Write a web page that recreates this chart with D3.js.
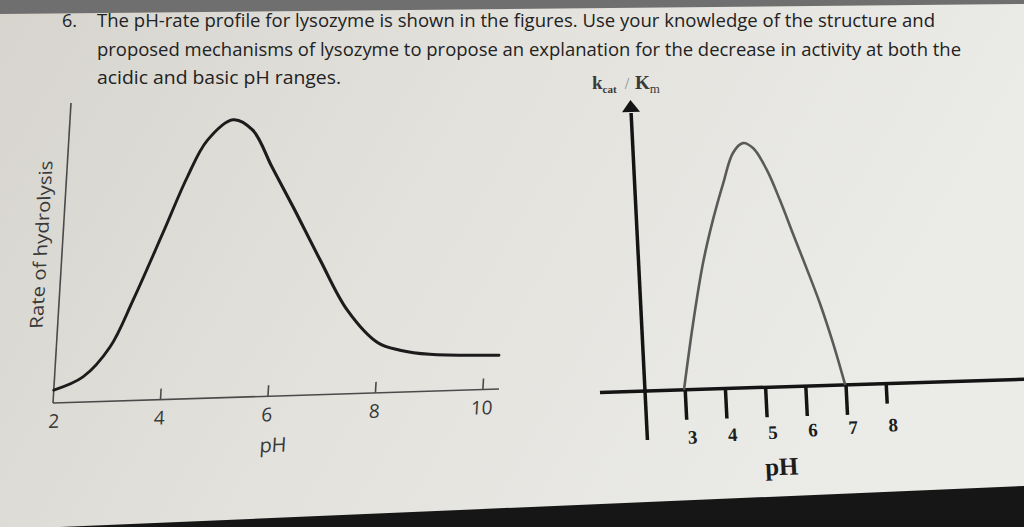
<!DOCTYPE html>
<html><head><meta charset="utf-8">
<script src="https://cdn.jsdelivr.net/npm/d3@7"></script>
<style>html,body{margin:0;padding:0;background:#e2e1dc;}svg{display:block;}</style>
</head><body>
<svg id="c" width="1024" height="527"></svg>
<script>
// ---------- data ----------
const questionLines = [
  "The pH-rate profile for lysozyme is shown in the figures.  Use your knowledge of the structure and",
  "proposed mechanisms of lysozyme to propose an explanation for the decrease in activity at both the",
  "acidic and basic pH ranges."
];
// Left figure: rate of hydrolysis (relative) vs pH
const leftPH   = [2.0, 2.53, 3.0, 3.38, 3.86, 4.25, 4.58, 5.04, 5.42, 5.82, 6.26, 6.82, 7.38, 7.99, 8.41, 8.97, 10.26];
const leftRate = [0.043,0.084,0.181,0.336,0.557,0.74,0.86,0.927,0.89,0.765,0.629,0.45,0.28,0.167,0.14,0.123,0.113];
const leftTicks = [4, 6, 8, 10];
const leftTickLabels = ["2","4","6","8","10"];
const leftLabelPH = [2, 4, 6, 8, 10];
// Right figure: kcat/Km vs pH
const rightPH   = [2.97,3.28,3.6,3.9,4.2,4.48,4.74,4.99,5.3,5.59,5.87,6.17,6.46,6.73,6.98];
const rightKcat = [0,0.266,0.504,0.675,0.82,0.94,0.978,0.956,0.868,0.745,0.61,0.468,0.325,0.168,0];
const rightTicks = [3,4,5,6,7,8];
const rightTickLabels = ["3","4","5","6","7","8"];

// ---------- drawing ----------
const svg = d3.select("#c");
const defs = svg.append("defs");
const g1 = defs.append("linearGradient").attr("id","paper").attr("x1","0").attr("x2","1").attr("y1","0").attr("y2","0.3");
g1.append("stop").attr("offset","0").attr("stop-color","#d6d4cd");
g1.append("stop").attr("offset","0.5").attr("stop-color","#e3e2dd");
g1.append("stop").attr("offset","1").attr("stop-color","#ebebe8");
svg.append("rect").attr("width",1024).attr("height",527).attr("fill","url(#paper)");
// photo edges
svg.append("path").attr("d","M0,0L1024,0L1024,4L0,14Z").attr("fill","#6f6f6f");
svg.append("path").attr("d","M60,527L1024,486L1024,527Z").attr("fill","#161616");

// question text
const qf = "'Open Sans','Liberation Sans',sans-serif";
svg.append("text").attr("x",62).attr("y",27).attr("font-family",qf).attr("font-size",18).attr("fill","#222").text("6.");
const qLens = [838, 864, 244];
questionLines.forEach((t,i)=>{
  svg.append("text").attr("x",97).attr("y",27+28.5*i)
    .attr("font-family",qf).attr("font-size",18).attr("font-weight",500).attr("fill","#222")
    .attr("textLength",qLens[i]).attr("lengthAdjust","spacingAndGlyphs").text(t);
});

// ---------- left chart ----------
const LW = 446, LH = 300;
const L = svg.append("g").attr("transform","matrix(1,-0.0314,-0.06,1,71,103)");
const lx = d3.scaleLinear().domain([2,10.3]).range([0,LW]);
const ly = d3.scaleLinear().domain([0,1]).range([LH,0]);
const sans = "'Open Sans','Liberation Sans',sans-serif";
L.append("line").attr("x1",0).attr("x2",0).attr("y1",0).attr("y2",LH).attr("stroke","#4a4a4a").attr("stroke-width",1.6);
L.append("line").attr("x1",0).attr("x2",LW).attr("y1",LH).attr("y2",LH).attr("stroke","#4a4a4a").attr("stroke-width",1.6);
L.selectAll(".lt").data(leftTicks).join("line")
  .attr("x1",d=>lx(d)).attr("x2",d=>lx(d)).attr("y1",LH).attr("y2",LH-11)
  .attr("stroke","#4a4a4a").attr("stroke-width",1.6);
L.selectAll(".ll").data(leftLabelPH).join("text")
  .attr("x",(d,i)=>lx(d)+(i===0?2:0)).attr("y",LH+25).attr("text-anchor","middle")
  .attr("font-family",sans).attr("font-size",19).attr("fill","#383838")
  .text((d,i)=>leftTickLabels[i]);
L.append("text").attr("x",lx(6.15)).attr("y",LH+56).attr("text-anchor","middle")
  .attr("font-family",sans).attr("font-size",20).attr("fill","#383838").text("pH");
L.append("text").attr("transform",`translate(-15,${LH*0.47}) rotate(-90)`).attr("text-anchor","middle")
  .attr("font-family",sans).attr("font-size",18).attr("fill","#383838")
  .attr("textLength",168).attr("lengthAdjust","spacingAndGlyphs").text("Rate of hydrolysis");
L.append("path").datum(leftPH.map((p,i)=>[p,leftRate[i]]))
  .attr("d",d3.line().x(d=>lx(d[0])).y(d=>ly(d[1])).curve(d3.curveCatmullRom.alpha(0.5)))
  .attr("fill","none").attr("stroke","#1c1c1c").attr("stroke-width",3).attr("stroke-linecap","round");

// ---------- right chart ----------
const R = svg.append("g").attr("transform","matrix(1,-0.0307,0.05,1,645,391)");
const rx = d3.scaleLinear().domain([2,12]).range([0,402]);
const ry = d3.scaleLinear().domain([0,1]).range([0,-250]);
const serif = "'Liberation Serif','DejaVu Serif',serif";
R.append("line").attr("x1",rx(0.88)).attr("x2",rx(11.6)).attr("y1",0).attr("y2",0).attr("stroke","#141414").attr("stroke-width",3.5);
R.append("line").attr("x1",0).attr("x2",0).attr("y1",49).attr("y2",-278).attr("stroke","#141414").attr("stroke-width",3.5);
R.append("path").attr("d","M0,-291L9,-279L-9,-279Z").attr("fill","#141414");
R.selectAll(".rt").data(rightTicks).join("line")
  .attr("x1",d=>rx(d)).attr("x2",d=>rx(d)).attr("y1",0).attr("y2",(d,i)=>i===rightTicks.length-1?20:30)
  .attr("stroke","#141414").attr("stroke-width",3.5);
R.selectAll(".rl").data(rightTicks).join("text")
  .attr("x",d=>rx(d)+5).attr("y",(d,i)=>54-i*1.2).attr("text-anchor","middle")
  .attr("font-family",serif).attr("font-weight","bold").attr("font-size",19).attr("fill","#1c1c1c")
  .text((d,i)=>rightTickLabels[i]);
R.append("text").attr("x",rx(5.3)).attr("y",88).attr("text-anchor","middle")
  .attr("font-family",serif).attr("font-weight","bold").attr("font-size",25).attr("fill","#1c1c1c").text("pH");
R.append("path").datum(rightPH.map((p,i)=>[p,rightKcat[i]]))
  .attr("d",d3.line().x(d=>rx(d[0])).y(d=>ry(d[1])).curve(d3.curveCatmullRom.alpha(0.5)))
  .attr("fill","none").attr("stroke","#5a5a5a").attr("stroke-width",2.6);

// kcat / Km label
const kl = svg.append("text").attr("x",592).attr("y",89).attr("font-family",serif).attr("fill","#3a3a3a").attr("font-size",19);
kl.append("tspan").attr("font-weight","bold").text("k");
kl.append("tspan").attr("font-size",11).attr("dy",4).attr("font-weight","bold").text("cat");
kl.append("tspan").attr("font-size",16).attr("dy",-4).attr("fill","#888").attr("dx",8).text("/");
kl.append("tspan").attr("font-weight","bold").attr("dx",6).text("K");
kl.append("tspan").attr("font-size",13).attr("dy",4).text("m");
</script>
</body></html>
